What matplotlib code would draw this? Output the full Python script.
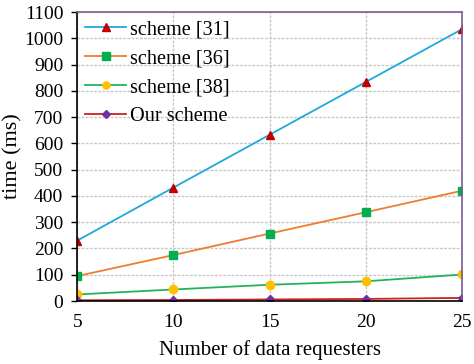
import numpy as np
import matplotlib.pyplot as plt

plt.rcParams['font.family'] = ['Liberation Serif', 'DejaVu Serif']

# --- Data ---
requesters = [5, 10, 15, 20, 25]
scheme_31 = [230, 432, 633, 834, 1035]
scheme_36 = [95, 175, 257, 338, 420]
scheme_38 = [25, 44, 62, 75, 101]
our_scheme = [3, 4, 6, 8, 12]
labels = ["scheme [31]", "scheme [36]", "scheme [38]", "Our scheme"]

fig, ax = plt.subplots(figsize=(4.74, 3.64), dpi=100)
fig.subplots_adjust(left=0.163, right=0.975, top=0.967, bottom=0.173)

ax.plot(requesters, scheme_31, color='#1fa8dc', lw=1.3, marker='^', ms=6,
        mfc='#c00000', mec='#c00000', label=labels[0])
ax.plot(requesters, scheme_36, color='#ed7d31', lw=1.3, marker='s', ms=6,
        mfc='#00b050', mec='#00b050', label=labels[1])
ax.plot(requesters, scheme_38, color='#22b35a', lw=1.3, marker='o', ms=6,
        mfc='#ffc000', mec='#ffc000', label=labels[2])
ax.plot(requesters, our_scheme, color='#d02020', lw=1.3, marker='D', ms=4.5,
        mfc='#7030a0', mec='#7030a0', label=labels[3])

ax.set_xlim(5, 25)
ax.set_ylim(0, 1100)
ax.set_xticks(requesters)
ax.set_yticks(np.arange(0, 1101, 100))
ax.tick_params(axis='y', labelsize=14, length=4, width=1, pad=6, direction='out')
ax.tick_params(axis='x', labelsize=14, length=0, pad=9)
ax.set_xlabel("Number of data requesters", fontsize=15, labelpad=7)
ax.set_ylabel("time (ms)", fontsize=16, labelpad=1)

ax.grid(True, color='#c8c8c8', linestyle=(0, (2, 1)), lw=1)
ax.set_axisbelow(True)
for s in ['left', 'bottom']:
    ax.spines[s].set_color('black')
    ax.spines[s].set_linewidth(1.2)
for s in ['top', 'right']:
    ax.spines[s].set_color('#7a5c9a')
    ax.spines[s].set_linewidth(1.2)

ax.legend(loc='upper left', frameon=False, fontsize=14.6, handlelength=2.0,
          handletextpad=0.2, labelspacing=0.48, borderaxespad=0.15,
          borderpad=0.25, markerscale=0.85)

fig.savefig("out.png", dpi=100)
